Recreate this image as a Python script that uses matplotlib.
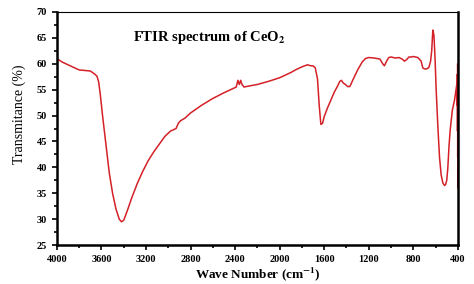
import matplotlib
matplotlib.use('Agg')
import matplotlib.pyplot as plt
from matplotlib.ticker import MultipleLocator

# FTIR spectrum of CeO2
wave_number = [4000, 3950, 3900, 3850, 3800, 3750, 3700, 3660, 3640, 3625,
               3610, 3590, 3560, 3530, 3500, 3470, 3440, 3420, 3400, 3370,
               3330, 3280, 3230, 3180, 3130, 3080, 3030, 2980, 2950, 2930,
               2910, 2890, 2850, 2800, 2700, 2600, 2500, 2420, 2390, 2375,
               2362, 2350, 2338, 2320, 2300, 2200, 2100, 2000, 1900, 1850,
               1800, 1750, 1720, 1700, 1680, 1660, 1645, 1630, 1615, 1600,
               1570, 1540, 1510, 1480, 1460, 1445, 1430, 1410, 1390, 1370,
               1340, 1300, 1260, 1230, 1200, 1150, 1100, 1075, 1060, 1040,
               1020, 1000, 960, 930, 900, 880, 860, 840, 820, 800,
               760, 730, 715, 700, 680, 660, 645, 635, 625, 615,
               605, 595, 580, 565, 550, 535, 520, 510, 500, 490,
               480, 470, 460, 450, 440, 430, 420, 410, 406, 404,
               403, 402, 401.5, 401, 400.5, 400]
transmittance = [61.0, 60.3, 59.8, 59.3, 58.8, 58.7, 58.6, 58.0, 57.6, 56.5,
                 54.0, 50.0, 44.5, 39.0, 35.0, 32.0, 30.0, 29.5, 29.8, 31.5,
                 34.0, 36.8, 39.2, 41.3, 43.0, 44.5, 46.0, 47.0, 47.3, 47.5,
                 48.5, 49.0, 49.5, 50.5, 52.0, 53.3, 54.4, 55.2, 55.5, 56.8,
                 56.0, 56.8, 56.0, 55.5, 55.6, 56.0, 56.6, 57.3, 58.3, 58.9,
                 59.4, 59.8, 59.6, 59.6, 59.2, 57.0, 52.0, 48.3, 48.5, 49.8,
                 51.5, 53.0, 54.5, 55.7, 56.6, 56.8, 56.3, 56.0, 55.6, 55.6,
                 57.0, 58.8, 60.3, 61.0, 61.2, 61.1, 60.9, 60.0, 59.6, 60.5,
                 61.2, 61.3, 61.1, 61.2, 60.9, 60.5, 60.8, 61.3, 61.3, 61.4,
                 61.2, 60.5, 59.2, 59.0, 59.0, 59.3, 60.5, 62.5, 66.5, 65.5,
                 61.0, 55.0, 48.0, 42.0, 38.5, 37.0, 36.5, 36.7, 37.5, 40.0,
                 44.0, 47.0, 49.0, 51.0, 52.0, 53.0, 54.5, 56.0, 52.0, 58.0,
                 47.0, 60.0, 42.0, 58.0, 36.0, 40.0]

plt.rcParams['font.family'] = 'Liberation Serif'
plt.rcParams['mathtext.fontset'] = 'stix'

fig = plt.figure(figsize=(4.74, 2.84), dpi=100)
ax = fig.add_axes([0.12, 0.137, 0.846, 0.821])

ax.plot(wave_number, transmittance, color='#d42027', lw=1.1)

ax.set_xlim(4000, 400)
ax.set_ylim(25, 70)
ax.xaxis.set_major_locator(MultipleLocator(400))
ax.xaxis.set_minor_locator(MultipleLocator(200))
ax.yaxis.set_major_locator(MultipleLocator(5))
ax.yaxis.set_minor_locator(MultipleLocator(2.5))
ax.tick_params(which='major', direction='out', length=3.5, width=1.2, labelsize=7.5)
ax.tick_params(which='minor', direction='out', length=2.5, width=1.2)
for lab in ax.get_xticklabels() + ax.get_yticklabels():
    lab.set_fontweight('bold')

ax.spines['left'].set_linewidth(1.8)
ax.spines['bottom'].set_linewidth(1.8)
ax.spines['right'].set_linewidth(1.8)
ax.spines['top'].set_linewidth(0.8)

ax.set_xlabel('Wave Number (cm$^{\\mathbf{-1}}$)', fontsize=9.5, fontweight='bold', labelpad=1)
ax.set_ylabel('Transmitance (%)', fontsize=10)
ax.yaxis.set_label_coords(-0.078, 0.56)
ax.text(0.19, 0.875, 'FTIR spectrum of CeO$_\\mathbf{2}$', transform=ax.transAxes,
        fontsize=10.5, fontweight='bold')

fig.savefig('out.png', dpi=100)
